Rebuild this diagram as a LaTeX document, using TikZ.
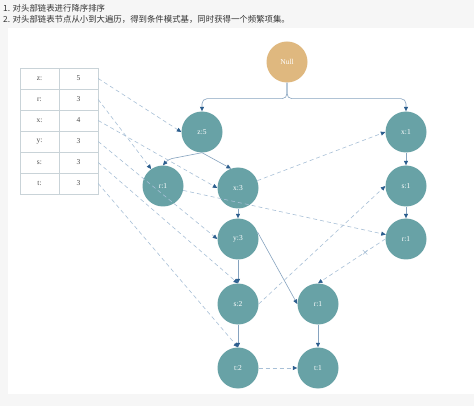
\documentclass[tikz,border=0pt]{standalone}
\usepackage{fontspec}
\setmainfont{Liberation Serif}
\newfontfamily\cjk{Noto Sans CJK SC}
\usetikzlibrary{arrows.meta,calc,shapes.misc}
\definecolor{itemteal}{HTML}{68A2A6}
\definecolor{nulltan}{HTML}{DFB87F}
\definecolor{treeline}{HTML}{86A3BF}
\definecolor{linkline}{HTML}{A8C0D7}
\definecolor{tipblue}{HTML}{2C5E8E}
\definecolor{cellgray}{HTML}{C9D3D8}
\definecolor{pagegray}{HTML}{F6F6F6}
\tikzset{
  item/.style={circle, fill=itemteal, minimum size=41pt, inner sep=0pt, text=white, font=\fontsize{7.5}{9}\selectfont},
  nullitem/.style={item, fill=nulltan},
  cell/.style={rectangle, draw=cellgray, minimum width=39pt, minimum height=21pt, inner sep=0pt, text=black!70, font=\fontsize{7.5}{9}\selectfont},
  tree/.style={draw=treeline, line width=0.6pt, -{Triangle[length=4.5pt,width=4pt,color=tipblue]}},
  link/.style={draw=linkline, line width=0.6pt, dash pattern=on 4pt off 3pt, -{Triangle[length=4.5pt,width=4pt,color=tipblue]}},
  note/.style={anchor=west, inner sep=0pt, text=black!80, font=\cjk\fontsize{8.4}{10}\selectfont}
}

\begin{document}
\begin{tikzpicture}[x=1pt,y=-1pt]
  \fill[pagegray] (0,0) rectangle (474,406);
  \fill[white] (8,28) rectangle (474,394);
  \useasboundingbox (0,0) rectangle (474,406);

  \node[note] (step1) at (3,8) {1. 对头部链表进行降序排序};
  \node[note] (step2) at (3,19) {2. 对头部链表节点从小到大遍历，得到条件模式基，同时获得一个频繁项集。};

  % header table
  \foreach \k/\c [count=\i] in {z/5, r/3, x/4, y/3, s/3, t/3} {
    \node[cell] (key\k) at (39.5,{57.5+21*\i}) {\k:};
    \node[cell] (cnt\k) at (78.5,{57.5+21*\i}) {\c};
  }

  % FP tree
  \node[nullitem] (null) at (287,62) {Null};
  \node[item] (z5) at (202,132) {z:5};
  \node[item] (r1a) at (163,186) {r:1};
  \node[item] (x3) at (238,188) {x:3};
  \node[item] (y3) at (238,239) {y:3};
  \node[item] (s2) at (238,304) {s:2};
  \node[item] (t2) at (238,368) {t:2};
  \node[item] (r1m) at (318,304) {r:1};
  \node[item] (t1) at (318,368) {t:1};
  \node[item] (x1) at (406,132) {x:1};
  \node[item] (s1) at (406,186) {s:1};
  \node[item] (r1c) at (406,239) {r:1};

  \draw[tree, rounded corners=5pt] (null.south) -- ++(0,16) -| (z5.north);
  \draw[tree, rounded corners=5pt] (null.south) -- ++(0,16) -| (x1.north);
  \draw[tree, rounded corners=4pt] (z5.south) -- ($(r1a.north)+(5,-6)$) -- (r1a.north);
  \draw[tree] (z5.south) -- (x3.110);
  \draw[tree] (x3) -- (y3);
  \draw[tree] (y3) -- (s2);
  \draw[tree] (s2) -- (t2);
  \draw[tree] (y3.20) -- (r1m.west);
  \draw[tree] (r1m) -- (t1);
  \draw[tree] (x1) -- (s1);
  \draw[tree] (s1) -- (r1c);

  % node links
  \draw[link] (cntz.east) -- (z5.west);
  \draw[link] (cntr.east) -- (r1a.125);
  \draw[link] (cntx.east) -- (x3.west);
  \draw[link] (cnty.east) -- (y3.west);
  \draw[link] (cnts.east) -- (s2.north);
  \draw[link] (cntt.east) -- (t2.north);
  \draw[link] (r1a) -- (r1c);
  \draw[link] (x3) -- (x1.west);
  \draw[link] (s2.east) -- (s1.west);
  \draw[link] (r1c.west) -- node[pos=0.3, cross out, draw=linkline, minimum size=4pt, inner sep=0pt, line width=0.5pt, solid] {} (r1m.north);
  \draw[link] (t2) -- (t1);
\end{tikzpicture}
\end{document}
